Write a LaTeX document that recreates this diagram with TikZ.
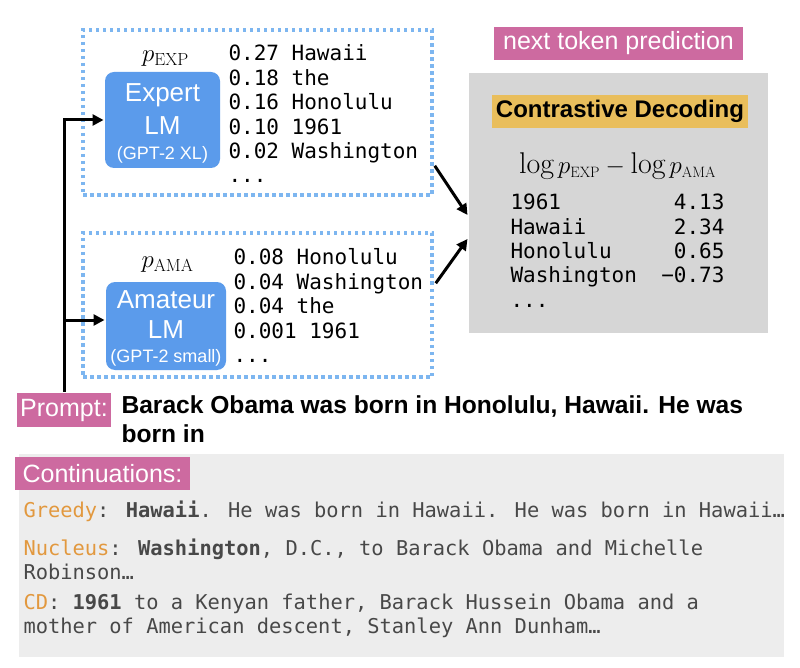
\documentclass[tikz,border=0pt]{standalone}
\usepackage{fontspec}
\newfontfamily\hel{Liberation Sans}
\newfontfamily\monofont{DejaVu Sans Mono}
\usetikzlibrary{arrows.meta, positioning}
\definecolor{lmblue}{RGB}{91,155,235}
\definecolor{dotblue}{RGB}{125,182,240}
\definecolor{tagpink}{RGB}{205,106,160}
\definecolor{cdyellow}{RGB}{233,190,92}
\definecolor{cdgray}{RGB}{214,214,214}
\definecolor{contgray}{RGB}{237,237,237}
\definecolor{lblorange}{RGB}{226,152,62}
\definecolor{txtgray}{RGB}{72,72,72}

\tikzset{
  lmbox/.style={fill=lmblue, rounded corners=9pt, inner sep=0pt},
  lmname/.style={text=white, font=\hel\fontsize{26}{30}\selectfont, anchor=base, inner sep=0pt},
  lmsub/.style={text=white, font=\hel\fontsize{18}{22}\selectfont, anchor=base, inner sep=0pt},
  dotbox/.style={draw=dotblue, line width=3.5pt, dash pattern=on 3.5pt off 3.5pt, inner sep=0pt},
  tagbox/.style={fill=tagpink, text=white, font=\hel\fontsize{25}{28}\selectfont, inner sep=0pt},
  probline/.style={font=\monofont\fontsize{21}{24}\selectfont, anchor=base west, inner sep=0pt},
  contline/.style={font=\monofont\fontsize{20.4}{24}\selectfont, text=txtgray, anchor=base west, inner sep=0pt},
  plabel/.style={font=\fontsize{35}{40}\selectfont, anchor=base, inner sep=0pt},
}

\begin{document}
\begin{tikzpicture}[x=1pt,y=1pt,>={Triangle[length=11pt,width=11pt]},line width=3pt]
\useasboundingbox (0,0) rectangle (800,-668);

% expert branch
\node[dotbox, minimum width=349pt, minimum height=165pt] (topbox) at (257.5,-112.5) {};
\node[lmbox, minimum width=115pt, minimum height=96pt] (expert) at (162.5,-120) {};
\node[lmname] (expert1) at (162.5,-102) {Expert};
\node[lmname] (expert2) at (162.5,-135) {LM};
\node[lmsub] (expert3) at (162.5,-160) {(GPT-2 XL)};
\node[plabel] (pexp) at (165.5,-61.5) {$p_{\scriptscriptstyle\mathrm{EXP}}$};
\foreach \txt [count=\i] in {0.27 Hawaii, 0.18 the, 0.16 Honolulu, 0.10 1961, 0.02 Washington}
  \node[probline] (exp\i) at (227,{-61-24.4*(\i-1)}) {\txt};
\node[probline] (expdots) at (227,-183) {...};

% amateur branch
\node[dotbox, minimum width=349pt, minimum height=144pt] (botbox) at (257.5,-305) {};
\node[lmbox, minimum width=120pt, minimum height=88pt] (amateur) at (166,-326) {};
\node[lmname] (amateur1) at (166,-308) {Amateur};
\node[lmname] (amateur2) at (166,-338) {LM};
\node[lmsub] (amateur3) at (166,-362) {(GPT-2 small)};
\node[plabel] (pama) at (167.5,-268) {$p_{\scriptscriptstyle\mathrm{AMA}}$};
\foreach \txt [count=\i] in {0.08 Honolulu, 0.04 Washington, 0.04 the, 0.001 1961}
  \node[probline] (ama\i) at (232,{-265-24.4*(\i-1)}) {\txt};
\node[probline] (amadots) at (232,-362.6) {...};

% contrastive decoding
\node[tagbox, minimum width=249pt, minimum height=33pt] (nexttok) at (618.5,-43.5) {next token prediction};
\node[fill=cdgray, minimum width=299pt, minimum height=260pt, inner sep=0pt] (cdbox) at (618.5,-203) {};
\node[fill=cdyellow, minimum width=256pt, minimum height=33pt, inner sep=0pt,
  font=\hel\bfseries\fontsize{24}{28}\selectfont] (cdtitle) at (620,-111.5) {Contrastive Decoding};
\node[font=\fontsize{30}{34}\selectfont, anchor=base, inner sep=0pt] (formula) at (617.5,-174)
  {$\log p_{\scriptscriptstyle\mathrm{EXP}} - \log p_{\scriptscriptstyle\mathrm{AMA}}$};
\foreach \w/\v [count=\i] in {1961/4.13, Hawaii/2.34, Honolulu/0.65, Washington/−0.73}
{
  \node[probline] (cdw\i) at (509,{-210-24.3*(\i-1)}) {\w};
  \node[probline, anchor=base east] (cdv\i) at (726,{-210-24.3*(\i-1)}) {\v};
}
\node[probline] (cddots) at (509,-307) {...};

% prompt
\node[tagbox, minimum width=94pt, minimum height=34pt] (prompt) at (64,-410) {Prompt:};
\node[font=\hel\bfseries\fontsize{24.6}{29}\selectfont, anchor=base west, inner sep=0pt] (prompt1) at (120,-413)
  {Barack Obama was born in Honolulu, Hawaii. He was};
\node[font=\hel\bfseries\fontsize{24.6}{29}\selectfont, anchor=base west, inner sep=0pt] (prompt2) at (120,-442)
  {born in};

\draw[->] (prompt.north) |- (expert.west);
\coordinate (amain) at ([yshift=6pt]amateur.west);
\draw[->] (prompt.north |- amain) -- (amain);
\draw[->] ([xshift=1pt,yshift=31pt]topbox.south east) -- ([yshift=-12pt]cdbox.west);
\draw[->] ([xshift=2pt,yshift=-52pt]botbox.north east) -- ([yshift=-36pt]cdbox.west);

% continuations
\node[fill=contgray, minimum width=765pt, minimum height=203pt, inner sep=0pt] (contbox) at (401.5,-555.5) {};
\node[tagbox, minimum width=175pt, minimum height=33pt] (conttag) at (102.5,-473.5) {Continuations:};
\node[contline] (greedy) at (22,-517)
  {{\color{lblorange}Greedy}: {\bfseries Hawaii}. He was born in Hawaii. He was born in Hawaii…};
\node[contline] (nucleus) at (22,-555)
  {{\color{lblorange}Nucleus}: {\bfseries Washington}, D.C., to Barack Obama and Michelle};
\node[contline] (nucleus2) at (22,-579) {Robinson…};
\node[contline] (cd) at (22,-609)
  {{\color{lblorange}CD}: {\bfseries 1961} to a Kenyan father, Barack Hussein Obama and a};
\node[contline] (cd2) at (22,-633) {mother of American descent, Stanley Ann Dunham…};
\end{tikzpicture}
\end{document}
